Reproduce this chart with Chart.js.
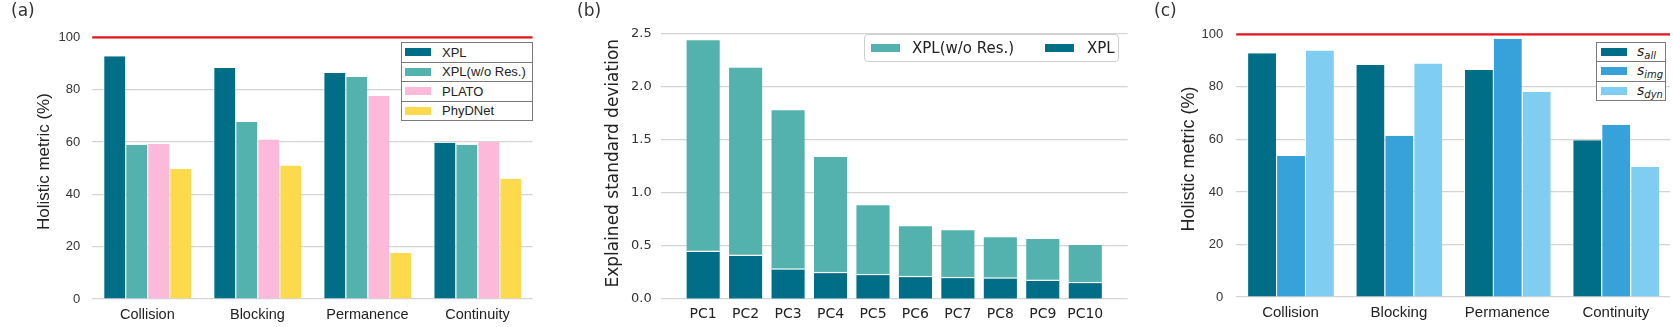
<!DOCTYPE html>
<html>
<head>
<meta charset="utf-8">
<script src="https://cdn.jsdelivr.net/npm/chart.js@4.4.1/dist/chart.umd.min.js"></script>
<style>
  body { margin: 0; background: #fff; }
  #page { position: relative; width: 1673px; height: 327px; overflow: hidden; background: #fff; }
  canvas { position: absolute; top: 0; }
  .tag { position: absolute; top: 0; font: 17px "DejaVu Sans"; line-height: 20px; color: #333; }
  .boxlegend { position: absolute; box-sizing: border-box; border: 1.5px solid #7a7a7a; background: #fff; display: flex; flex-direction: column; }
  .boxlegend .row { flex: 1; display: flex; align-items: center; border-top: 1.5px solid #7a7a7a; color: #222; }
  .boxlegend .row:first-child { border-top: none; }
  .boxlegend .sw { width: 26px; height: 8px; margin-left: 3px; margin-right: 11px; flex: none; }
  #legA { left: 401px; top: 42px; width: 132px; height: 79px; font: 13px "Liberation Sans"; }
  #legC { left: 1596px; top: 42px; width: 70px; height: 59px; font: italic 14px "DejaVu Sans"; }
  #legC .sw { margin-left: 4px; margin-right: 10px; }
  #legC sub { font-size: 10px; vertical-align: -3px; }
  #legB { position: absolute; left: 864px; top: 34px; width: 255px; height: 28px; box-sizing: border-box;
          border: 1px solid #cfcfcf; border-radius: 4px; background: rgba(255,255,255,0.85);
          font: 15px "DejaVu Sans"; color: #222; }
  #legB span { position: absolute; top: 4px; }
  #legB i { position: absolute; top: 9px; width: 29px; height: 8px; }
</style>
</head>
<body>
<div id="page">
  <canvas id="chartA" width="560" height="327" style="left:0px"></canvas>
  <canvas id="chartB" width="580" height="327" style="left:560px"></canvas>
  <canvas id="chartC" width="533" height="327" style="left:1140px"></canvas>
  <div class="tag" style="left:11px">(a)</div>
  <div class="tag" style="left:577px">(b)</div>
  <div class="tag" style="left:1154px">(c)</div>
  <div id="legA" class="boxlegend"></div>
  <div id="legB"></div>
  <div id="legC" class="boxlegend"></div>
</div>
<script>
// panel (a) and (c): holistic metric per scenario
const scenarios = ["Collision", "Blocking", "Permanence", "Continuity"];
const xplScores = [92.8, 88.3, 86.4, 59.7];
const xplNoResScores = [58.9, 67.6, 84.8, 58.9];
const platoScores = [59.3, 60.9, 77.6, 60.0];
const phydnetScores = [49.7, 51.0, 17.6, 45.9];

const sAllScores = [92.8, 88.3, 86.4, 59.7];
const sImgScores = [53.7, 61.4, 98.3, 65.6];
const sDynScores = [93.8, 88.9, 78.1, 49.6];

// panel (b): explained standard deviation per principal component
const pcLabels = ["PC1", "PC2", "PC3", "PC4", "PC5", "PC6", "PC7", "PC8", "PC9", "PC10"];
const noResStd = [2.44, 2.18, 1.78, 1.34, 0.885, 0.687, 0.649, 0.583, 0.565, 0.508];
const xplStd = [0.458, 0.42, 0.289, 0.257, 0.238, 0.22, 0.21, 0.205, 0.185, 0.163];

const perfectScore = 100;

const TEAL_DARK = "#006e87";
const TEAL = "#54b2ae";
const PINK = "#fdb9da";
const YELLOW = "#fdda4c";
const BLUE = "#37a2d9";
const SKY = "#80cdf2";
const GRID = "#d4d4d4";

Chart.defaults.color = "#333";
Chart.defaults.animation = false;

const redLine = {
  id: "redLine",
  afterDatasetsDraw(chart, args, opts) {
    const { ctx, chartArea, scales } = chart;
    const y = scales.y.getPixelForValue(opts.value);
    ctx.save();
    ctx.strokeStyle = "#e4161c";
    ctx.lineWidth = 2.2;
    ctx.beginPath();
    ctx.moveTo(chartArea.left, y);
    ctx.lineTo(chartArea.right, y);
    ctx.stroke();
    ctx.restore();
  },
};

function groupedBars(canvasId, series, layout) {
  const ctx = document.getElementById(canvasId).getContext("2d");
  return new Chart(ctx, {
    type: "bar",
    data: {
      labels: scenarios,
      datasets: series.map(function (s) {
        return {
          label: s.label,
          data: s.data,
          backgroundColor: s.color,
          borderColor: "#fff",
          borderWidth: { left: 1, right: 0, top: 0, bottom: 0 },
          borderSkipped: false,
          categoryPercentage: 0.8,
          barPercentage: 1.0,
        };
      }),
    },
    plugins: [redLine],
    options: {
      responsive: false,
      layout: { padding: { left: 0, top: layout.top, right: layout.right, bottom: 0 } },
      plugins: {
        legend: { display: false },
        tooltip: { enabled: false },
        redLine: { value: perfectScore },
      },
      scales: {
        x: {
          grid: { display: false, drawTicks: false },
          border: { display: false },
          ticks: { font: { family: "Liberation Sans", size: layout.xFont }, padding: 7, color: "#222" },
          afterFit: function (s) { s.height = layout.xHeight; },
        },
        y: {
          min: 0,
          max: 105,
          grid: { color: GRID, lineWidth: 1.2, drawTicks: false },
          border: { display: false },
          ticks: {
            stepSize: 20,
            includeBounds: false,
            font: { family: "Liberation Sans", size: 13 },
            padding: layout.tickPad,
            color: "#333",
          },
          title: {
            display: true,
            text: "Holistic metric (%)",
            font: { family: "Liberation Sans", size: layout.titleFont },
            color: "#222",
            padding: { top: layout.titlePad, bottom: 0 },
          },
          afterFit: function (s) { s.width = layout.yWidth; },
        },
      },
    },
  });
}

groupedBars("chartA", [
  { label: "XPL", data: xplScores, color: TEAL_DARK },
  { label: "XPL(w/o Res.)", data: xplNoResScores, color: TEAL },
  { label: "PLATO", data: platoScores, color: PINK },
  { label: "PhyDNet", data: phydnetScores, color: YELLOW },
], { top: 24.2, right: 27.5, yWidth: 92.3, xHeight: 28, tickPad: 12, titlePad: 34, titleFont: 17, xFont: 14.5 });

groupedBars("chartC", [
  { label: "s_all", data: sAllScores, color: TEAL_DARK },
  { label: "s_img", data: sImgScores, color: BLUE },
  { label: "s_dyn", data: sDynScores, color: SKY },
], { top: 21.2, right: 3, yWidth: 96.3, xHeight: 30, tickPad: 13, titlePad: 38, titleFont: 18, xFont: 15 });

// panel (b): overlapping bars, XPL drawn in front of XPL(w/o Res.)
new Chart(document.getElementById("chartB").getContext("2d"), {
  type: "bar",
  data: {
    datasets: [
      {
        label: "XPL(w/o Res.)",
        data: noResStd.map(function (v, i) { return { x: i, y: v }; }),
        backgroundColor: TEAL,
        borderWidth: 0,
        grouped: false,
        order: 2,
        barPercentage: 0.78,
        categoryPercentage: 1,
      },
      {
        label: "XPL",
        data: xplStd.map(function (v, i) { return { x: i, y: v }; }),
        backgroundColor: TEAL_DARK,
        borderColor: "#fff",
        borderWidth: { top: 1.5, left: 0, right: 0, bottom: 0 },
        borderSkipped: false,
        grouped: false,
        order: 1,
        barPercentage: 0.78,
        categoryPercentage: 1,
      },
    ],
  },
  options: {
    responsive: false,
    layout: { padding: { left: 0, top: 27.5, right: 12.3, bottom: 0 } },
    plugins: { legend: { display: false }, tooltip: { enabled: false } },
    scales: {
      x: {
        type: "linear",
        min: -1,
        max: 10,
        offset: false,
        grid: { display: false, drawTicks: false },
        border: { display: false },
        ticks: {
          stepSize: 1,
          autoSkip: false,
          maxRotation: 0,
          padding: 7,
          font: { family: "DejaVu Sans", size: 14 },
          color: "#222",
          callback: function (value) { return pcLabels[value] || ""; },
        },
        afterFit: function (s) { s.height = 28; },
      },
      y: {
        min: 0,
        max: 2.56,
        grid: { color: GRID, lineWidth: 1.2, drawTicks: false },
        border: { display: false },
        ticks: {
          stepSize: 0.5,
          includeBounds: false,
          padding: 9,
          font: { family: "DejaVu Sans", size: 13 },
          color: "#333",
          callback: function (value) { return value.toFixed(1); },
        },
        title: {
          display: true,
          text: "Explained standard deviation",
          font: { family: "DejaVu Sans", size: 17 },
          color: "#222",
          padding: { top: 43, bottom: 0 },
        },
        afterFit: function (s) { s.width = 100.7; },
      },
    },
  },
});

// legends
function boxLegend(id, items) {
  const box = document.getElementById(id);
  items.forEach(function (it) {
    const row = document.createElement("div");
    row.className = "row";
    row.innerHTML = '<span class="sw" style="background:' + it.color + '"></span><span>' + it.html + "</span>";
    box.appendChild(row);
  });
}
boxLegend("legA", [
  { html: "XPL", color: TEAL_DARK },
  { html: "XPL(w/o Res.)", color: TEAL },
  { html: "PLATO", color: PINK },
  { html: "PhyDNet", color: YELLOW },
]);
boxLegend("legC", [
  { html: "s<sub>all</sub>", color: TEAL_DARK },
  { html: "s<sub>img</sub>", color: BLUE },
  { html: "s<sub>dyn</sub>", color: SKY },
]);
document.getElementById("legB").innerHTML =
  '<i style="left:6px;background:' + TEAL + '"></i><span style="left:47px">XPL(w/o Res.)</span>' +
  '<i style="left:180px;background:' + TEAL_DARK + '"></i><span style="left:222px">XPL</span>';
</script>
</body>
</html>
